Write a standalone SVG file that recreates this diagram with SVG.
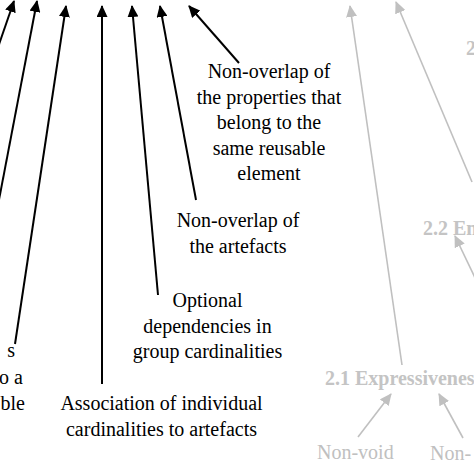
<svg xmlns="http://www.w3.org/2000/svg" width="474" height="474" viewBox="0 0 474 474">
<defs>
<marker id="ab" markerUnits="userSpaceOnUse" markerWidth="12" markerHeight="11" refX="11" refY="5.5" orient="auto" viewBox="0 0 12 11"><path d="M0,0 L12,5.5 L0,11 z" fill="#000"/></marker>
<marker id="ag" markerUnits="userSpaceOnUse" markerWidth="12" markerHeight="11" refX="11" refY="5.5" orient="auto" viewBox="0 0 12 11"><path d="M0,0 L12,5.5 L0,11 z" fill="#c0c0c0"/></marker>
<style>
.t{font-family:"Liberation Serif","Times New Roman",serif;font-size:20px;fill:#000}
.g{font-family:"Liberation Serif","Times New Roman",serif;font-size:20px;fill:#c0c0c0}
.gb{font-family:"Liberation Serif","Times New Roman",serif;font-size:20px;font-weight:bold;fill:#c4c4c4}
.m{text-anchor:middle}
.e{text-anchor:end}
.cb{stroke:#000;stroke-width:2;fill:none;marker-end:url(#ab)}
.cg{stroke:#c0c0c0;stroke-width:1.6;fill:none;marker-end:url(#ag)}
</style>
</defs>
<rect width="474" height="474" fill="#fff"/>
<g id="connectors">
<line class="cb" x1="-5" y1="56" x2="14" y2="1"/>
<line class="cb" x1="-2" y1="205" x2="37" y2="1"/>
<line class="cb" x1="15" y1="344" x2="66" y2="6"/>
<line class="cb" x1="102" y1="384" x2="102" y2="6"/>
<line class="cb" x1="158" y1="295" x2="132" y2="6"/>
<line class="cb" x1="196" y1="200" x2="160" y2="6"/>
<line class="cb" x1="239" y1="63" x2="189" y2="6"/>
<line class="cg" x1="402" y1="365" x2="350" y2="6"/>
<line class="cg" x1="472" y1="182" x2="396" y2="2"/>
<line class="cg" x1="478" y1="284" x2="455" y2="236"/>
<line class="cg" x1="358" y1="437" x2="391" y2="394"/>
<line class="cg" x1="463" y1="438" x2="439" y2="394"/>
</g>
<g id="node-props">
<text class="t m" x="269" y="78">Non-overlap of</text>
<text class="t m" x="269" y="103.6">the properties that</text>
<text class="t m" x="269" y="129.2">belong to the</text>
<text class="t m" x="269" y="154.8">same reusable</text>
<text class="t m" x="269" y="180.4">element</text>
</g>
<g id="node-artefacts">
<text class="t m" x="238" y="227">Non-overlap of</text>
<text class="t m" x="238" y="252.5">the artefacts</text>
</g>
<g id="node-optional">
<text class="t m" x="207.5" y="307">Optional</text>
<text class="t m" x="207.5" y="332.5">dependencies in</text>
<text class="t m" x="207.5" y="358">group cardinalities</text>
</g>
<g id="node-association">
<text class="t m" x="161.5" y="410">Association of individual</text>
<text class="t m" x="161.5" y="435.5">cardinalities to artefacts</text>
</g>
<g id="node-left">
<text class="t e" x="15" y="357">s</text>
<text class="t e" x="23" y="383.5">o a</text>
<text class="t e" x="25" y="410">ble</text>
</g>
<g id="node-2">
<text class="gb" x="466" y="55">2</text>
</g>
<g id="node-22">
<text class="gb" x="423" y="235">2.2 En</text>
</g>
<g id="node-21">
<text class="gb" x="325" y="385">2.1 Expressivenes</text>
</g>
<g id="node-nonvoid">
<text class="g" x="317" y="459">Non-void</text>
</g>
<g id="node-non">
<text class="g" x="430" y="460">Non-</text>
</g>
</svg>
